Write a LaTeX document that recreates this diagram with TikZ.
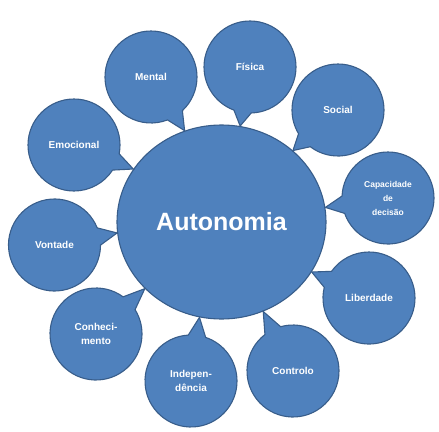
\documentclass[tikz,border=0pt]{standalone}
\usepackage{fontspec}
\setmainfont{Liberation Sans}
\usetikzlibrary{shapes.geometric,shapes.callouts}
\definecolor{bfill}{HTML}{4F81BD}
\definecolor{bline}{HTML}{385D8A}
\tikzset{
  bubble/.style={ellipse callout, draw=bline, fill=bfill, line width=1.1pt,
    minimum width=92pt, minimum height=92pt, inner sep=0pt,
    callout pointer arc=22, text=white, align=center,
    font=\bfseries\fontsize{10}{14}\selectfont},
  hub/.style={ellipse, draw=bline, fill=bfill, line width=1.1pt,
    minimum width=209pt, minimum height=194pt, inner sep=0pt,
    text=white, font=\bfseries\fontsize{25}{28}\selectfont}
}
\begin{document}
\begin{tikzpicture}[x=1pt,y=-1pt]
\useasboundingbox (0,0) rectangle (439,431);
\node[hub] (auto) at (221.5,222) {Autonomia};
\node[bubble, callout absolute pointer={(auto.112.7)}] (mental) at (151,77) {Mental};
\node[bubble, callout absolute pointer={(auto.79)}] (fisica) at (250,67) {Física};
\node[bubble, callout absolute pointer={(auto.45.2)}] (social) at (338,110) {Social};
\node[bubble, callout absolute pointer={(auto.8.2)}, font=\bfseries\fontsize{8.5}{14}\selectfont] (capac) at (388,198) {Capacidade\\de\\decisão};
\node[bubble, callout absolute pointer={(auto.149)}] (emoc) at (74,145) {Emocional};
\node[bubble, callout absolute pointer={(auto.186)}] (vont) at (54.5,245) {Vontade};
\node[bubble, callout absolute pointer={(auto.221.7)}] (conh) at (96,334) {Conheci-\\mento};
\node[bubble, callout absolute pointer={(auto.257.6)}] (indep) at (191,381) {Indepen-\\dência};
\node[bubble, callout absolute pointer={(auto.331)}] (liber) at (369,298) {Liberdade};
\node[bubble, callout absolute pointer={(auto.295.8)}] (contr) at (293,371) {Controlo};
\end{tikzpicture}
\end{document}
